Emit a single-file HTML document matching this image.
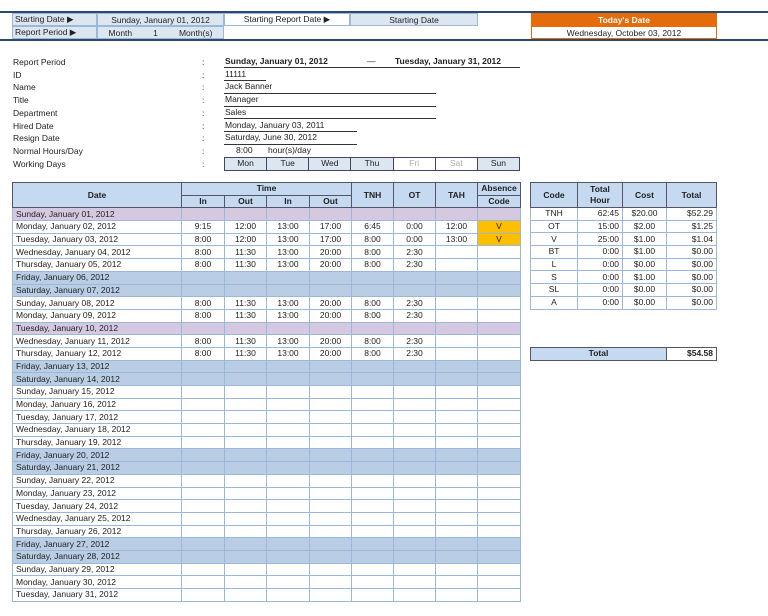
<!DOCTYPE html>
<html><head><meta charset="utf-8"><style>
body{margin:0;width:768px;height:616px;background:#fff;position:relative;font-family:"Liberation Sans",sans-serif;font-size:8.5px;color:#222;overflow:hidden}
.a{position:absolute;white-space:nowrap}
.bx{position:absolute;box-sizing:border-box;display:flex;align-items:center;justify-content:center;white-space:nowrap}
table{border-collapse:collapse;table-layout:fixed;position:absolute}
td{border:1px solid #9bb7d9;height:11.7px;padding:0 3px;text-align:center;white-space:nowrap;overflow:hidden;line-height:11px}
td:first-child{text-align:left}
tr.h td{background:#c5d9f1;font-weight:bold;border-color:#556;text-align:center}
tr.p td{background:#d5c9e2;border-top:1.5px solid #6d8fbf}
tr.b td{background:#b9cde5;border-top:1.5px solid #6d8fbf}
td.y{background:#fdbf00}
.r td{text-align:center}
.r td.n{text-align:right}
</style></head><body>
<div class="a" style="left:0;top:11px;width:768px;height:2px;background:#2c4a6e"></div>
<div class="a" style="left:0;top:39px;width:768px;height:2px;background:#2c4a6e"></div>
<div class="bx" style="left:12px;top:13px;width:85px;height:13px;background:#dce6f1;border:1px solid #9bb7d9;justify-content:flex-start;padding-left:2px">Starting Date ▶</div>
<div class="bx" style="left:97px;top:13px;width:127px;height:13px;background:#dce6f1;border:1px solid #9bb7d9">Sunday, January 01, 2012</div>
<div class="bx" style="left:224px;top:13px;width:126px;height:13px;border:1px solid #9bb7d9">Starting Report Date ▶</div>
<div class="bx" style="left:350px;top:13px;width:128px;height:13px;background:#dce6f1;border:1px solid #9bb7d9">Starting Date</div>
<div class="bx" style="left:12px;top:26px;width:85px;height:13px;background:#dce6f1;border:1px solid #9bb7d9;justify-content:flex-start;padding-left:2px">Report Period ▶</div>
<div class="bx" style="left:97px;top:26px;width:127px;height:13px;background:#dce6f1;border:1px solid #9bb7d9;justify-content:space-around">Month<span>1</span><span>Month(s)</span></div>
<div class="bx" style="left:531px;top:13px;width:186px;height:13px;background:#e46c0a;color:#fff;font-weight:bold">Today's Date</div>
<div class="bx" style="left:531px;top:26px;width:186px;height:13px;border:1px solid #e46c0a">Wednesday, October 03, 2012</div>

<div class="a" style="left:13px;top:56px;line-height:12.7px">Report Period<br>ID<br>Name<br>Title<br>Department<br>Hired Date<br>Resign Date<br>Normal Hours/Day<br>Working Days</div>
<div class="a" style="left:202px;top:56px;line-height:12.7px">:<br>:<br>:<br>:<br>:<br>:<br>:<br>:<br>:</div>
<div class="a" style="left:225px;top:56px;font-weight:bold">Sunday, January 01, 2012</div>
<div class="a" style="left:367px;top:56px">—</div>
<div class="a" style="left:395px;top:56px;font-weight:bold">Tuesday, January 31, 2012</div>
<div class="a" style="left:224px;top:67px;width:296px;height:1px;background:#333"></div>
<div class="a" style="left:225px;top:69px">11111</div><div class="a" style="left:224px;top:80px;width:42px;height:1px;background:#333"></div>
<div class="a" style="left:225px;top:81px">Jack Banner</div><div class="a" style="left:224px;top:93px;width:212px;height:1px;background:#333"></div>
<div class="a" style="left:225px;top:94px">Manager</div><div class="a" style="left:224px;top:106px;width:212px;height:1px;background:#333"></div>
<div class="a" style="left:225px;top:107px">Sales</div><div class="a" style="left:224px;top:118px;width:212px;height:1px;background:#333"></div>
<div class="a" style="left:225px;top:120px">Monday, January 03, 2011</div><div class="a" style="left:224px;top:131px;width:133px;height:1px;background:#333"></div>
<div class="a" style="left:225px;top:132px">Saturday, June 30, 2012</div><div class="a" style="left:224px;top:144px;width:133px;height:1px;background:#333"></div>
<div class="a" style="left:236px;top:145px">8:00</div><div class="a" style="left:268px;top:145px">hour(s)/day</div>
<table style="left:224px;top:157px;width:296px"><tr>
<td style="background:#dce6f1;border-color:#446;text-align:center">Mon</td><td style="background:#dce6f1;border-color:#446">Tue</td><td style="background:#dce6f1;border-color:#446">Wed</td><td style="background:#dce6f1;border-color:#446">Thu</td><td style="color:#aaa;border-color:#446">Fri</td><td style="color:#aaa;border-color:#446">Sat</td><td style="background:#dce6f1;border-color:#446">Sun</td></tr></table>

<table style="left:12px;top:182px;width:508px">
<colgroup><col style="width:169px"><col style="width:43px"><col style="width:42px"><col style="width:43px"><col style="width:42px"><col style="width:42px"><col style="width:42px"><col style="width:42px"><col style="width:43px"></colgroup>
<tr class="h"><td rowspan="2">Date</td><td colspan="4">Time</td><td rowspan="2">TNH</td><td rowspan="2">OT</td><td rowspan="2">TAH</td><td>Absence</td></tr>
<tr class="h"><td>In</td><td>Out</td><td>In</td><td>Out</td><td>Code</td></tr>
<tr class="p"><td>Sunday, January 01, 2012</td><td></td><td></td><td></td><td></td><td></td><td></td><td></td><td></td></tr>
<tr><td>Monday, January 02, 2012</td><td>9:15</td><td>12:00</td><td>13:00</td><td>17:00</td><td>6:45</td><td>0:00</td><td>12:00</td><td class="y">V</td></tr>
<tr><td>Tuesday, January 03, 2012</td><td>8:00</td><td>12:00</td><td>13:00</td><td>17:00</td><td>8:00</td><td>0:00</td><td>13:00</td><td class="y">V</td></tr>
<tr><td>Wednesday, January 04, 2012</td><td>8:00</td><td>11:30</td><td>13:00</td><td>20:00</td><td>8:00</td><td>2:30</td><td></td><td></td></tr>
<tr><td>Thursday, January 05, 2012</td><td>8:00</td><td>11:30</td><td>13:00</td><td>20:00</td><td>8:00</td><td>2:30</td><td></td><td></td></tr>
<tr class="b"><td>Friday, January 06, 2012</td><td></td><td></td><td></td><td></td><td></td><td></td><td></td><td></td></tr>
<tr class="b"><td>Saturday, January 07, 2012</td><td></td><td></td><td></td><td></td><td></td><td></td><td></td><td></td></tr>
<tr><td>Sunday, January 08, 2012</td><td>8:00</td><td>11:30</td><td>13:00</td><td>20:00</td><td>8:00</td><td>2:30</td><td></td><td></td></tr>
<tr><td>Monday, January 09, 2012</td><td>8:00</td><td>11:30</td><td>13:00</td><td>20:00</td><td>8:00</td><td>2:30</td><td></td><td></td></tr>
<tr class="p"><td>Tuesday, January 10, 2012</td><td></td><td></td><td></td><td></td><td></td><td></td><td></td><td></td></tr>
<tr><td>Wednesday, January 11, 2012</td><td>8:00</td><td>11:30</td><td>13:00</td><td>20:00</td><td>8:00</td><td>2:30</td><td></td><td></td></tr>
<tr><td>Thursday, January 12, 2012</td><td>8:00</td><td>11:30</td><td>13:00</td><td>20:00</td><td>8:00</td><td>2:30</td><td></td><td></td></tr>
<tr class="b"><td>Friday, January 13, 2012</td><td></td><td></td><td></td><td></td><td></td><td></td><td></td><td></td></tr>
<tr class="b"><td>Saturday, January 14, 2012</td><td></td><td></td><td></td><td></td><td></td><td></td><td></td><td></td></tr>
<tr><td>Sunday, January 15, 2012</td><td></td><td></td><td></td><td></td><td></td><td></td><td></td><td></td></tr>
<tr><td>Monday, January 16, 2012</td><td></td><td></td><td></td><td></td><td></td><td></td><td></td><td></td></tr>
<tr><td>Tuesday, January 17, 2012</td><td></td><td></td><td></td><td></td><td></td><td></td><td></td><td></td></tr>
<tr><td>Wednesday, January 18, 2012</td><td></td><td></td><td></td><td></td><td></td><td></td><td></td><td></td></tr>
<tr><td>Thursday, January 19, 2012</td><td></td><td></td><td></td><td></td><td></td><td></td><td></td><td></td></tr>
<tr class="b"><td>Friday, January 20, 2012</td><td></td><td></td><td></td><td></td><td></td><td></td><td></td><td></td></tr>
<tr class="b"><td>Saturday, January 21, 2012</td><td></td><td></td><td></td><td></td><td></td><td></td><td></td><td></td></tr>
<tr><td>Sunday, January 22, 2012</td><td></td><td></td><td></td><td></td><td></td><td></td><td></td><td></td></tr>
<tr><td>Monday, January 23, 2012</td><td></td><td></td><td></td><td></td><td></td><td></td><td></td><td></td></tr>
<tr><td>Tuesday, January 24, 2012</td><td></td><td></td><td></td><td></td><td></td><td></td><td></td><td></td></tr>
<tr><td>Wednesday, January 25, 2012</td><td></td><td></td><td></td><td></td><td></td><td></td><td></td><td></td></tr>
<tr><td>Thursday, January 26, 2012</td><td></td><td></td><td></td><td></td><td></td><td></td><td></td><td></td></tr>
<tr class="b"><td>Friday, January 27, 2012</td><td></td><td></td><td></td><td></td><td></td><td></td><td></td><td></td></tr>
<tr class="b"><td>Saturday, January 28, 2012</td><td></td><td></td><td></td><td></td><td></td><td></td><td></td><td></td></tr>
<tr><td>Sunday, January 29, 2012</td><td></td><td></td><td></td><td></td><td></td><td></td><td></td><td></td></tr>
<tr><td>Monday, January 30, 2012</td><td></td><td></td><td></td><td></td><td></td><td></td><td></td><td></td></tr>
<tr><td>Tuesday, January 31, 2012</td><td></td><td></td><td></td><td></td><td></td><td></td><td></td><td></td></tr>
</table>

<table class="r" style="left:530px;top:182px;width:186px">
<colgroup><col style="width:47px"><col style="width:45px"><col style="width:44px"><col style="width:50px"></colgroup>
<tr class="h"><td rowspan="2" style="height:24px">Code</td><td rowspan="2">Total<br>Hour</td><td rowspan="2">Cost</td><td rowspan="2">Total</td></tr><tr></tr>
<tr><td>TNH</td><td class="n">62:45</td><td>$20.00</td><td class="n">$52.29</td></tr>
<tr><td>OT</td><td class="n">15:00</td><td>$2.00</td><td class="n">$1.25</td></tr>
<tr><td>V</td><td class="n">25:00</td><td>$1.00</td><td class="n">$1.04</td></tr>
<tr><td>BT</td><td class="n">0:00</td><td>$1.00</td><td class="n">$0.00</td></tr>
<tr><td>L</td><td class="n">0:00</td><td>$0.00</td><td class="n">$0.00</td></tr>
<tr><td>S</td><td class="n">0:00</td><td>$1.00</td><td class="n">$0.00</td></tr>
<tr><td>SL</td><td class="n">0:00</td><td>$0.00</td><td class="n">$0.00</td></tr>
<tr><td>A</td><td class="n">0:00</td><td>$0.00</td><td class="n">$0.00</td></tr>
</table>
<table style="left:530px;top:347px;width:186px">
<colgroup><col style="width:136px"><col style="width:50px"></colgroup>
<tr class="h"><td>Total</td><td style="background:#fff;text-align:right">$54.58</td></tr></table>
</body></html>
